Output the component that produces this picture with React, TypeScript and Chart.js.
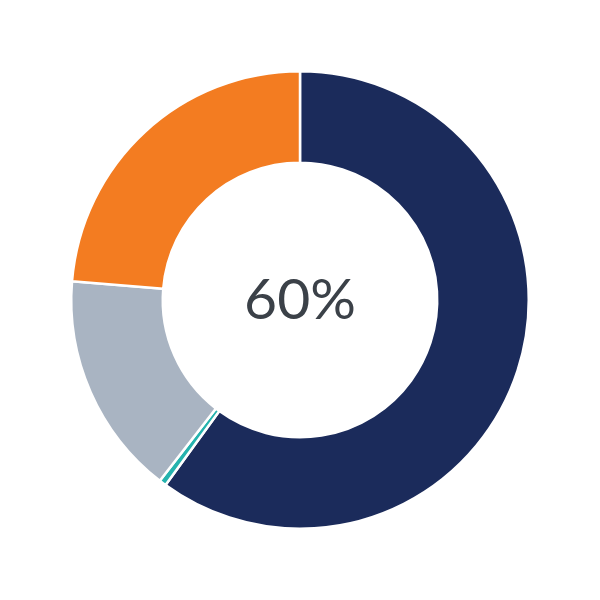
import React, { useEffect, useRef } from "react";
import { Chart, registerables } from "chart.js";

Chart.register(...registerables);

const categories = ["Navy", "Teal", "Gray", "Orange"];
const values = [60, 0.5, 15.8, 23.7];
const colors = ["#1b2b5b", "#25b3ae", "#a9b4c2", "#f37c21"];
const centerLabel = "60%";

const centerText = {
  id: "centerText",
  afterDraw(chart: any) {
    const { ctx, chartArea } = chart;
    const cx = (chartArea.left + chartArea.right) / 2;
    const cy = (chartArea.top + chartArea.bottom) / 2;
    ctx.save();
    ctx.font = "400 57px Lato";
    ctx.fillStyle = "#3b4148";
    ctx.textAlign = "center";
    ctx.textBaseline = "middle";
    ctx.fillText(centerLabel, cx, cy + 1);
    ctx.restore();
  },
};

export default function App() {
  const ref = useRef<HTMLCanvasElement>(null);
  useEffect(() => {
    const chart = new Chart(ref.current!, {
      type: "doughnut",
      data: {
        labels: categories,
        datasets: [
          {
            data: values,
            backgroundColor: colors,
            borderColor: "#ffffff",
            borderWidth: 2.5,
          },
        ],
      },
      options: {
        animation: false,
        responsive: false,
        cutout: "60%",
        layout: { padding: 70 },
        plugins: { legend: { display: false }, tooltip: { enabled: false } },
      },
      plugins: [centerText],
    });
    return () => chart.destroy();
  }, []);
  return (
    <div style={{ position: "absolute", left: 0, top: 0, width: 600, height: 600, background: "#fff" }}>
      <canvas ref={ref} width={600} height={600} style={{ width: 600, height: 600 }} />
    </div>
  );
}
